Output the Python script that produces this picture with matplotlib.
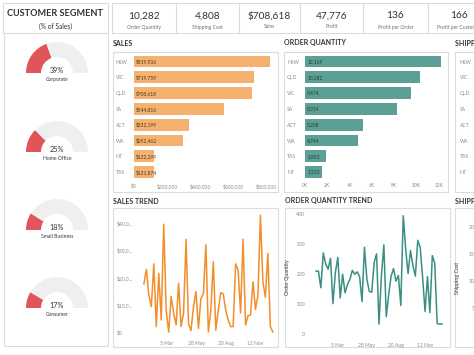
import matplotlib
matplotlib.use("Agg")
import matplotlib.pyplot as plt
import matplotlib.patches as mpatches
import matplotlib.dates as mdates
import pandas as pd
import numpy as np

plt.rcParams['font.family'] = ['Lato', 'DejaVu Sans']

# ---------------- data ----------------
kpi_values = ["10,282", "4,808", "$708,618", "47,776", "136", "166"]
kpi_labels = ["Order Quantity", "Shipping Cost", "Sales", "Profit", "Profit per Order", "Profit per Customer"]

segments = ["Corporate", "Home Office", "Small Business", "Consumer"]
segment_pct = [39, 25, 18, 17]

sales_states = ["NSW", "VIC", "QLD", "SA", "ACT", "WA", "NT", "TAS"]
sales_values = [819936, 719759, 708618, 544816, 332199, 292462, 122299, 121874]

qty_states = ["NSW", "QLD", "VIC", "SA", "ACT", "WA", "TAS", "NT"]
qty_values = [12169, 10282, 9474, 8254, 5208, 4744, 1892, 1523]

ship_states = ["NSW", "VIC", "QLD", "SA", "ACT", "WA", "TAS", "NT"]

weeks = pd.date_range("2012-01-02", periods=53, freq="7D")
sales_trend = [17600, 23000, 13500, 9300, 25000, 2000, 21500, 4400, 39500, 8000,
               0, 13000, 6800, 2600, 17800, 2000, 7000, 34000, 3000, 500,
               9300, 14800, 1300, 12300, 14000, 32000, 0, 8000, 25700, 700,
               8000, 14400, 14000, 8000, 4400, 2000, 2000, 25000, 22700, 7000,
               34000, 2600, 6000, 6200, 18400, 8300, 13500, 42800, 18400, 12700,
               28800, 2000, 0]
qty_trend = [209, 210, 154, 270, 233, 216, 252, 101, 205, 255,
             120, 199, 137, 165, 182, 212, 199, 207, 191, 108,
             289, 182, 142, 139, 238, 267, 33, 193, 297, 58,
             131, 193, 218, 176, 195, 95, 394, 284, 201, 278,
             227, 193, 312, 289, 188, 75, 191, 71, 261, 236,
             35, 33, 33]

date_ticks = pd.to_datetime(["2012-03-05", "2012-05-28", "2012-08-20", "2012-11-12"])
date_tick_labels = ["5 Mar", "28 May", "20 Aug", "12 Nov"]

# ---------------- style ----------------
W, H = 474, 355
RED = "#e05559"
GREY_G = "#efefef"
BORDER = "#dcdcdc"
TXT = "#333333"
LBL = "#6e6e6e"
TICK = "#8a8a8a"
ORANGE_BAR = "#f6b06f"
TEAL_BAR = "#5b9f96"
ORANGE_LINE = "#f28e2b"
TEAL_LINE = "#3a8f83"

fig = plt.figure(figsize=(W / 100, H / 100), dpi=100)
fig.patch.set_facecolor("white")

bg = fig.add_axes([0, 0, 1, 1])
bg.set_xlim(0, W)
bg.set_ylim(H, 0)
bg.axis("off")


def px_axes(x0, y0, x1, y1):
    return fig.add_axes([x0 / W, 1 - y1 / H, (x1 - x0) / W, (y1 - y0) / H])


def frame(x0, y0, x1, y1, lw=0.8, ec=BORDER):
    bg.add_patch(mpatches.Rectangle((x0, y0), x1 - x0, y1 - y0, fill=False,
                                    ec=ec, lw=lw, clip_on=False))


# ---- header ----
frame(3, 3, 108, 33)
bg.text(55.5, 14, "CUSTOMER SEGMENT", ha="center", va="center", fontsize=6.6,
        fontweight="bold", color=TXT)
bg.text(55.5, 26.5, "(% of Sales)", ha="center", va="center", fontsize=4.8, color=TXT)

kpi_edges = [112, 176, 239, 300, 363, 428, 490]
frame(112, 3, 490, 33)
for i, (v, l) in enumerate(zip(kpi_values, kpi_labels)):
    x0, x1 = kpi_edges[i], kpi_edges[i + 1]
    if i > 0:
        bg.plot([x0, x0], [3, 33], color=BORDER, lw=0.8)
    cx = (x0 + x1) / 2
    bg.text(cx, 16, v, ha="center", va="center", fontsize=7.3, color=TXT)
    bg.text(cx, 27, l, ha="center", va="center", fontsize=3.6, color=LBL)

# ---- left gauges panel ----
frame(4, 33, 108, 346)
gauge_base_y = [73, 152, 230, 308]
R_OUT, R_IN = 31, 16
for seg, pct, cy in zip(segments, segment_pct, gauge_base_y):
    cx = 57
    ang = 180 + pct / 100 * 180
    bg.add_patch(mpatches.Wedge((cx, cy), R_OUT, 180, ang, width=R_OUT - R_IN,
                                fc=RED, ec="none"))
    bg.add_patch(mpatches.Wedge((cx, cy), R_OUT, ang, 360, width=R_OUT - R_IN,
                                fc=GREY_G, ec="none"))
    bg.text(cx, cy - 2.5, f"{pct}%", ha="center", va="center", fontsize=5.2, color=TXT)
    bg.text(cx, cy + 6.5, seg, ha="center", va="center", fontsize=3.6, color=TXT)

# ---- titles ----
for (x, y, t) in [(113, 43, "SALES"), (284, 43, "ORDER QUANTITY"), (455, 43, "SHIPPING COST"),
                  (113, 201, "SALES TREND"), (285, 201, "ORDER QUANTITY TREND"),
                  (455, 201, "SHIPPING COST TREND")]:
    bg.text(x, y, t, ha="left", va="center", fontsize=5.0, fontweight="bold", color=TXT)

# panel frames
frame(113, 52, 278, 192)
frame(284, 52, 448, 192)
frame(455, 52, 640, 192)
frame(113, 208, 278, 347)
frame(285, 208, 450, 347)
frame(455, 208, 640, 347)


def style_bar_axes(ax, states, pad_px=18):
    for s in ax.spines.values():
        s.set_visible(False)
    ax.set_ylim(len(states) - 0.5, -0.5)
    ax.set_yticks(range(len(states)))
    ax.set_yticklabels(states)
    ax.tick_params(axis="y", length=0, pad=pad_px * 0.72, labelsize=3.6, labelcolor=TICK)
    for lab in ax.get_yticklabels():
        lab.set_horizontalalignment("left")
    ax.tick_params(axis="x", length=0, pad=2.2, labelsize=3.6, labelcolor=TICK)
    ax.set_facecolor("none")


# ---- sales bars ----
ax_s = px_axes(134, 53.6, 276, 180)
ax_s.barh(range(len(sales_states)), sales_values, height=0.74, color=ORANGE_BAR)
ax_s.set_xlim(0, 855000)
ax_s.set_xticks([0, 200000, 400000, 600000, 800000])
ax_s.set_xticklabels(["$0", "$200,000", "$400,000", "$600,000", "$800,000"])
style_bar_axes(ax_s, sales_states)
for i, v in enumerate(sales_values):
    ax_s.annotate(f"${v:,}", (0, i), xytext=(1.5, 0), textcoords="offset points",
                  va="center", ha="left", fontsize=3.5, color="#4a3a2a")

# ---- order quantity bars ----
ax_q = px_axes(305, 53.6, 447, 180)
ax_q.barh(range(len(qty_states)), qty_values, height=0.74, color=TEAL_BAR)
ax_q.set_xlim(0, 12735)
ax_q.set_xticks(range(0, 12001, 2000))
ax_q.set_xticklabels([f"{k}K" for k in range(0, 13, 2)])
style_bar_axes(ax_q, qty_states)
for i, v in enumerate(qty_values):
    ax_q.annotate(f"{v:,}", (0, i), xytext=(1.5, 0), textcoords="offset points",
                  va="center", ha="left", fontsize=3.5, color="#1f3f3a")

# ---- shipping cost bars (clipped panel: labels only) ----
ax_sh = px_axes(478, 53.6, 640, 180)
style_bar_axes(ax_sh, ship_states)
ax_sh.set_xticks([])


def style_trend(ax):
    for s in ax.spines.values():
        s.set_visible(False)
    ax.set_facecolor("none")
    ax.tick_params(length=0, labelsize=3.6, labelcolor=TICK)
    ax.set_xticks(date_ticks)
    ax.set_xticklabels(date_tick_labels)
    ax.tick_params(axis="x", pad=2.0)


# ---- sales trend ----
ax_st = px_axes(140, 212, 276, 338)
ax_st.plot(weeks, sales_trend, color=ORANGE_LINE, lw=1.1)
ax_st.set_xlim(weeks[0] - pd.Timedelta(days=11), weeks[-1] + pd.Timedelta(days=9))
ax_st.set_ylim(-2200, 44000)
style_trend(ax_st)
ax_st.set_yticks([0, 10000, 20000, 30000, 40000])
ax_st.set_yticklabels(["$0", "$10,0…", "$20,0…", "$30,0…", "$40,0…"])
ax_st.tick_params(axis="y", pad=23 * 0.72)
for lab in ax_st.get_yticklabels():
    lab.set_horizontalalignment("left")

# ---- order quantity trend ----
ax_qt = px_axes(312, 210, 446, 340)
ax_qt.plot(weeks, qty_trend, color=TEAL_LINE, lw=1.1)
ax_qt.set_xlim(weeks[0] - pd.Timedelta(days=11.5), weeks[-1] + pd.Timedelta(days=11.5))
ax_qt.set_ylim(-20, 413)
style_trend(ax_qt)
ax_qt.set_yticks([0, 100, 200, 300, 400])
ax_qt.tick_params(axis="y", pad=5)
ax_qt.set_ylabel("Order Quantity", fontsize=3.8, color=TXT)
ax_qt.yaxis.set_label_coords(-0.165, 0.48)

# ---- shipping cost trend (clipped panel: axis only) ----
ax_sht = px_axes(484, 210, 640, 340)
ax_sht.set_ylim(-9.3, 231)
for s in ax_sht.spines.values():
    s.set_visible(False)
ax_sht.set_facecolor("none")
ax_sht.set_xticks([])
ax_sht.set_yticks([0, 50, 100, 150, 200])
ax_sht.tick_params(length=0, labelsize=3.6, labelcolor=TICK, pad=5)
ax_sht.set_ylabel("Shipping Cost", fontsize=3.8, color=TXT)
ax_sht.yaxis.set_label_coords(-0.155, 0.48)

fig.savefig("out.png", dpi=100, facecolor="white")
